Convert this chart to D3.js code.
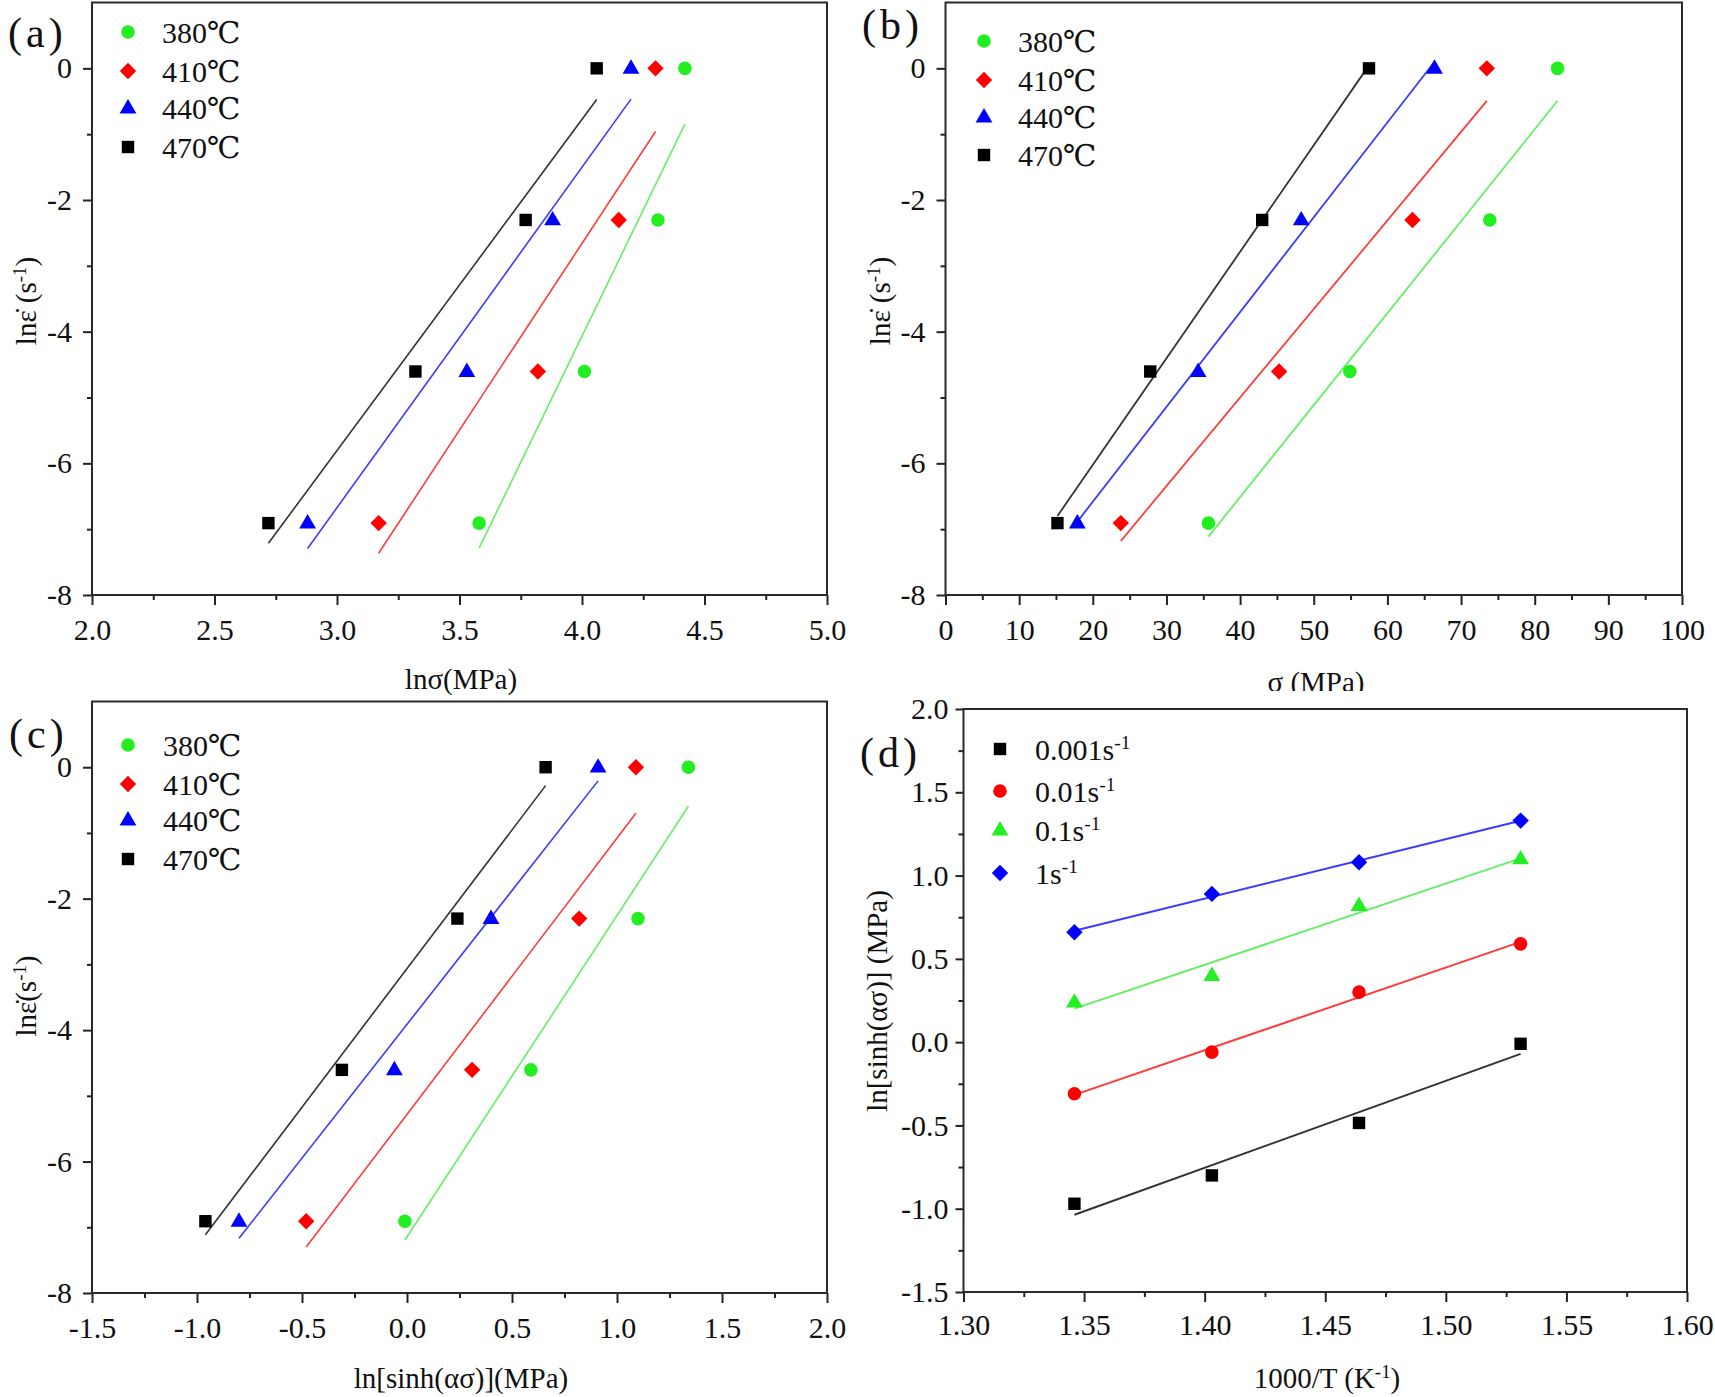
<!DOCTYPE html>
<html><head><meta charset="utf-8">
<script src="https://cdn.jsdelivr.net/npm/d3@7"></script>
<style>body{margin:0;background:#fff} svg{display:block} text{font-family:"Liberation Serif","Times New Roman","DejaVu Serif",serif;fill:#111}</style>
</head><body>
<svg id="chart" width="1715" height="1397"></svg>
<script>
// ---------- data ----------
const tempLabels = ["380℃", "410℃", "440℃", "470℃"];
const lnStrainRate = [0, -2.303, -4.605, -6.908];
// (a) ln(sigma)
const lnSigma380 = [4.42, 4.31, 4.01, 3.58];
const lnSigma410 = [4.30, 4.15, 3.82, 3.17];
const lnSigma440 = [4.20, 3.88, 3.53, 2.88];
const lnSigma470 = [4.06, 3.77, 3.32, 2.72];
// (b) sigma
const sigma380 = [83.1, 73.9, 54.9, 35.7];
const sigma410 = [73.5, 63.4, 45.3, 23.8];
const sigma440 = [66.4, 48.3, 34.3, 17.9];
const sigma470 = [57.5, 43.0, 27.8, 15.2];
// (c) ln[sinh(alpha sigma)]
const lnSinh380 = [1.34, 1.10, 0.59, -0.01];
const lnSinh410 = [1.09, 0.82, 0.31, -0.48];
const lnSinh440 = [0.91, 0.40, -0.06, -0.80];
const lnSinh470 = [0.66, 0.24, -0.31, -0.96];
// (d) ln[sinh(alpha sigma)] vs 1000/T
const rateLabels = ["0.001", "0.01", "0.1", "1"];
const invT = [1.346, 1.403, 1.464, 1.531];
const lnSinhRate0001 = [-0.97, -0.80, -0.485, -0.01];
const lnSinhRate001 = [-0.31, -0.06, 0.30, 0.59];
const lnSinhRate01 = [0.24, 0.40, 0.82, 1.10];
const lnSinhRate1 = [0.66, 0.89, 1.08, 1.33];
// tick values
const ticksA = [2.0, 2.5, 3.0, 3.5, 4.0, 4.5, 5.0];
const ticksB = [0, 10, 20, 30, 40, 50, 60, 70, 80, 90, 100];
const ticksC = [-1.5, -1.0, -0.5, 0.0, 0.5, 1.0, 1.5, 2.0];
const ticksDx = [1.30, 1.35, 1.40, 1.45, 1.50, 1.55, 1.60];
const ticksDy = [-1.5, -1.0, -0.5, 0.0, 0.5, 1.0, 1.5, 2.0];
const ticksRate = [-8, -6, -4, -2, 0];

// ---------- styles ----------
const COL = {green: "#22ee22", red: "#ff0000", blue: "#0000ff", black: "#000000"};
const LINECOL = {green: "#66ee66", red: "#ff3b3b", blue: "#3b3bff", black: "#333333"};

const svg = d3.select("#chart");

function symbolPath(shape) {
  const p = d3.path();
  if (shape === "circle") { p.arc(0, 0, 6.8, 0, 2 * Math.PI); }
  else if (shape === "square") { p.rect(-6.2, -6.2, 12.4, 12.4); }
  else if (shape === "diamond") { p.moveTo(0, -8.2); p.lineTo(8.2, 0); p.lineTo(0, 8.2); p.lineTo(-8.2, 0); p.closePath(); }
  else if (shape === "triangle") { p.moveTo(0, -9); p.lineTo(8.4, 5.4); p.lineTo(-8.4, 5.4); p.closePath(); }
  return p.toString();
}

function fitLine(xs, ys) {
  const mx = d3.mean(xs), my = d3.mean(ys);
  let sxy = 0, sxx = 0;
  xs.forEach((x, i) => { sxy += (x - mx) * (ys[i] - my); sxx += (x - mx) * (x - mx); });
  const k = sxy / sxx;
  const [a, b] = d3.extent(xs);
  return [[a, my + k * (a - mx)], [b, my + k * (b - mx)]];
}

function addSup(textSel, base, sup, tail) {
  textSel.append("tspan").text(base);
  textSel.append("tspan").attr("font-size", "0.65em").attr("dy", "-0.55em").text(sup);
  if (tail) textSel.append("tspan").attr("dy", "0.36em").text(tail);
}

function panel(o) {
  const g = svg.append("g");
  if (o.clipY) {
    const id = "clip" + o.id;
    svg.append("clipPath").attr("id", id).append("rect").attr("x", 0).attr("y", 0).attr("width", 1715).attr("height", o.clipY);
    g.attr("clip-path", `url(#${id})`);
  }
  const x = d3.scaleLinear().domain(o.xDomain).range([o.left, o.right]);
  const y = d3.scaleLinear().domain(o.yDomain).range([o.bottom, o.top]);

  // minor ticks
  g.append("g").attr("transform", `translate(0,${o.bottom})`)
    .call(d3.axisBottom(x).tickValues(o.xMinor).tickSize(5).tickFormat(""))
    .call(s => { s.select(".domain").remove(); s.selectAll("text").remove(); })
    .selectAll("line").attr("stroke", "#222").attr("stroke-width", 2);
  g.append("g").attr("transform", `translate(${o.left},0)`)
    .call(d3.axisLeft(y).tickValues(o.yMinor).tickSize(5).tickFormat(""))
    .call(s => { s.select(".domain").remove(); s.selectAll("text").remove(); })
    .selectAll("line").attr("stroke", "#222").attr("stroke-width", 2);
  // major ticks
  const xa = g.append("g").attr("transform", `translate(0,${o.bottom})`)
    .call(d3.axisBottom(x).tickValues(o.xTicks).tickSize(10).tickPadding(o.xPad || 14).tickFormat(o.xFmt))
    .call(s => s.select(".domain").remove());
  xa.selectAll("line").attr("stroke", "#222").attr("stroke-width", 2);
  xa.selectAll("text").attr("font-size", 30).attr("font-family", "Liberation Serif, serif").attr("fill", "#111");
  const ya = g.append("g").attr("transform", `translate(${o.left},0)`)
    .call(d3.axisLeft(y).tickValues(o.yTicks).tickSize(o.yTick || 9).tickPadding(o.yPad || 11).tickFormat(o.yFmt))
    .call(s => s.select(".domain").remove());
  ya.selectAll("line").attr("stroke", "#222").attr("stroke-width", 2);
  ya.selectAll("text").attr("font-size", 30).attr("font-family", "Liberation Serif, serif").attr("fill", "#111");

  // frame
  g.append("rect").attr("x", o.left).attr("y", o.top).attr("width", o.right - o.left).attr("height", o.bottom - o.top)
    .attr("fill", "none").attr("stroke", "#2a2a2a").attr("stroke-width", 2);

  // fit lines
  o.series.forEach(s => {
    const pts = fitLine(s.xs, s.ys);
    g.append("line")
      .attr("x1", x(pts[0][0])).attr("y1", y(pts[0][1]))
      .attr("x2", x(pts[1][0])).attr("y2", y(pts[1][1]))
      .attr("stroke", LINECOL[s.color]).attr("stroke-width", o.lineW);
  });
  // markers
  o.series.forEach(s => {
    g.selectAll(null).data(s.xs.map((v, i) => [v, s.ys[i]])).enter().append("path")
      .attr("d", symbolPath(s.shape))
      .attr("transform", d => `translate(${x(d[0])},${y(d[1])})`)
      .attr("fill", COL[s.color]);
  });
  // legend
  o.series.forEach((s, i) => {
    const ly = o.legend.ys[i];
    g.append("path").attr("d", symbolPath(s.shape)).attr("transform", `translate(${o.legend.x},${ly})`).attr("fill", COL[s.color]);
    const t = g.append("text").attr("x", o.legend.tx).attr("y", ly + 11).attr("font-size", 30);
    if (s.sup) addSup(t, s.label, "-1"); else t.text(s.label);
  });
  // panel label
  g.append("text").attr("x", o.tag[0]).attr("y", o.tag[1]).attr("font-size", 42).attr("letter-spacing", 4).text(o.tagText);
  // x title
  g.append("text").attr("x", o.xTitlePos[0]).attr("y", o.xTitlePos[1]).attr("text-anchor", "middle").attr("font-size", 29).call(o.xTitle);
  // y title
  g.append("text").attr("transform", `translate(${o.yTitlePos[0]},${o.yTitlePos[1]}) rotate(-90)`).attr("text-anchor", "middle").attr("font-size", 29).call(o.yTitle);
  return g;
}

const shapesT = ["circle", "diamond", "triangle", "square"];
const colorsT = ["green", "red", "blue", "black"];
function tempSeries(xsList) {
  return xsList.map((xs, i) => ({xs, ys: lnStrainRate, color: colorsT[i], shape: shapesT[i], label: tempLabels[i]}));
}
const hyphen = f => (v => f(v).replace("\u2212", "-"));
const fmtInt = hyphen(d3.format("d"));
const fmt1 = hyphen(d3.format(".1f"));
const fmt2 = hyphen(d3.format(".2f"));
const minorBetween = (ticks) => ticks.slice(0, -1).map((t, i) => (t + ticks[i + 1]) / 2);
const rateMinor = [-7, -5, -3, -1];

// (a)
panel({
  id: "a", left: 92, right: 827, top: 2.5, bottom: 595,
  xDomain: [2.0, 5.0], yDomain: [-8, 1],
  xTicks: ticksA, xMinor: minorBetween(ticksA), yTicks: ticksRate, yMinor: rateMinor,
  xFmt: fmt1, yFmt: fmtInt, lineW: 1.6,
  series: tempSeries([lnSigma380, lnSigma410, lnSigma440, lnSigma470]),
  legend: {x: 128, tx: 162, ys: [32, 71, 108, 147]},
  tag: [8, 47], tagText: "(a)",
  xTitlePos: [461, 689], xTitle: t => t.text("lnσ(MPa)"),
  yTitlePos: [36, 301], yTitle: t => addSup(t, "lnε̇ (s", "-1", ")")
});
// (b)
panel({
  id: "b", left: 945.5, right: 1682, top: 2.5, bottom: 595, clipY: 691,
  xDomain: [0, 100], yDomain: [-8, 1],
  xTicks: ticksB, xMinor: minorBetween(ticksB), yTicks: ticksRate, yMinor: rateMinor,
  xFmt: fmtInt, yFmt: fmtInt, lineW: 1.8,
  series: tempSeries([sigma380, sigma410, sigma440, sigma470]),
  legend: {x: 984, tx: 1018, ys: [41, 80, 117, 155]},
  tag: [862, 39], tagText: "(b)",
  xTitlePos: [1316, 692], xTitle: t => t.text("σ (MPa)"),
  yTitlePos: [890, 301], yTitle: t => addSup(t, "lnε̇ (s", "-1", ")")
});
// (c)
panel({
  id: "c", left: 92, right: 827, top: 701.5, bottom: 1293,
  xDomain: [-1.5, 2.0], yDomain: [-8, 1],
  xTicks: ticksC, xMinor: minorBetween(ticksC), yTicks: ticksRate, yMinor: rateMinor,
  xFmt: fmt1, yFmt: fmtInt, lineW: 1.6,
  series: tempSeries([lnSinh380, lnSinh410, lnSinh440, lnSinh470]),
  legend: {x: 128, tx: 163, ys: [745, 784, 820, 859]},
  tag: [9, 748], tagText: "(c)",
  xTitlePos: [461, 1388], xTitle: t => t.text("ln[sinh(ασ)](MPa)"),
  yTitlePos: [36, 996], yTitle: t => addSup(t, "lnε̇(s", "-1", ")")
});
// (d)
const shapesR = ["square", "circle", "triangle", "diamond"];
const colorsR = ["black", "red", "green", "blue"];
const rateSeries = [lnSinhRate0001, lnSinhRate001, lnSinhRate01, lnSinhRate1]
  .map((ys, i) => ({xs: invT, ys, color: colorsR[i], shape: shapesR[i], label: rateLabels[i] + "s", sup: true}));
panel({
  id: "d", left: 963.5, right: 1687, top: 709, bottom: 1292,
  xDomain: [1.30, 1.60], yDomain: [-1.5, 2.0],
  xTicks: ticksDx, xMinor: minorBetween(ticksDx), yTicks: ticksDy, yMinor: minorBetween(ticksDy),
  xFmt: fmt2, yFmt: fmt1, lineW: 2, yTick: 8, yPad: 7, xPad: 12,
  series: rateSeries,
  legend: {x: 1000, tx: 1035, ys: [749, 791, 830, 873]},
  tag: [860, 767], tagText: "(d)",
  xTitlePos: [1327, 1388], xTitle: t => addSup(t, "1000/T (K", "-1", ")"),
  yTitlePos: [887, 1001], yTitle: t => t.text("ln[sinh(ασ)] (MPa)")
});
</script>
</body></html>
